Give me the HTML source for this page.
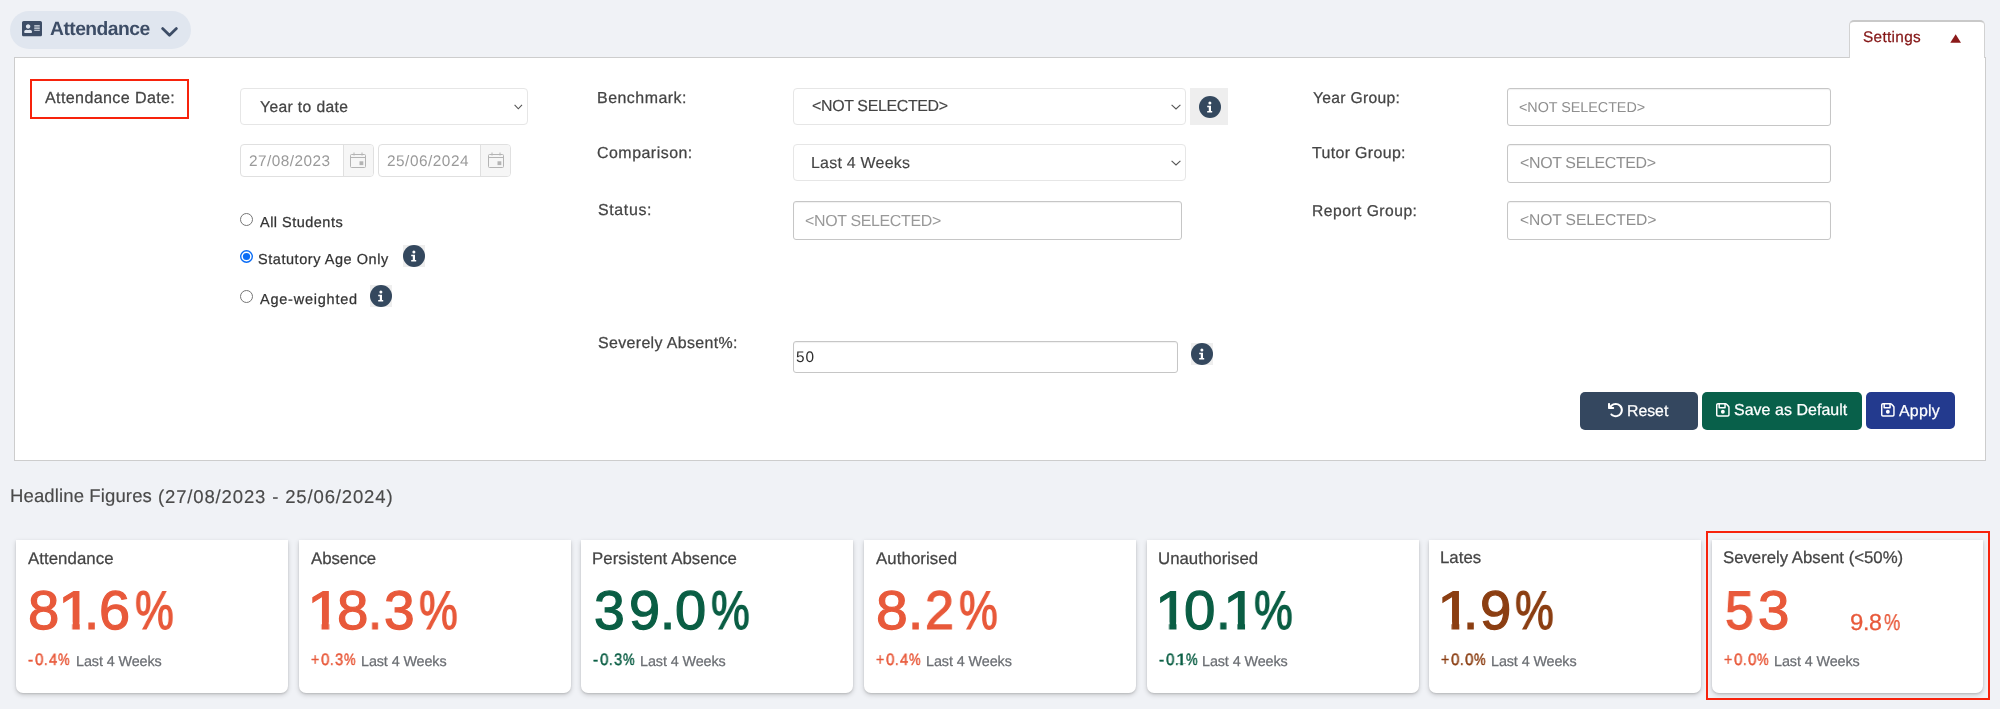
<!DOCTYPE html>
<html><head><meta charset="utf-8"><title>Attendance</title>
<style>
html,body{margin:0;padding:0}
body{text-rendering:geometricPrecision;width:2000px;height:709px;overflow:hidden;background:#f0f2f6;position:relative;font-family:'Liberation Sans',Arial,sans-serif}
.t{will-change:transform;position:absolute;white-space:nowrap;line-height:1;font-family:'Liberation Sans',Arial,sans-serif}
.a{position:absolute;box-sizing:border-box}
.pill{left:10px;top:11px;width:181px;height:38px;border-radius:19px;background:#e0e6ef}
.panel{left:14px;top:57px;width:1972px;height:404px;border:1px solid #cdcdcd;background:#fff}
.tab{left:1849px;top:20px;width:136px;height:38px;background:#fff;border-top:2px solid #c9c9c9;border-left:1px solid #d2d2d2;border-right:1px solid #d2d2d2;border-radius:5px 5px 0 0}
.redbox{border:2px solid #f7230c}
.sel{border:1px solid #e6e6e6;border-radius:4px;background:#fff}
.inp{border:1px solid #c6c6c6;border-radius:3px;background:#fff;box-shadow:inset 0 1px 1px rgba(0,0,0,.06)}
.date{border:1px solid #e0e0e0;border-radius:4px;background:#fff;overflow:hidden}
.addon{position:absolute;top:0;bottom:0;right:0;background:#f6f6f6;border-left:1px solid #e0e0e0}
.radio{width:13px;height:13px;border-radius:50%;border:1px solid #767676;background:#fff}
.radio.on{border:1.6px solid #0a6cf5}
.radio.on::after{content:'';position:absolute;left:1.4px;top:1.4px;width:7px;height:7px;border-radius:50%;background:#0a6cf5}
.ibg{background:#eeeeee}
.btn{border-radius:5px}
.card{top:540px;height:153px;width:272px;background:#fff;border-radius:0 0 7px 7px;box-shadow:0 2px 5px rgba(0,0,0,.17),0 1px 2px rgba(0,0,0,.12)}
svg{position:absolute;overflow:visible}
</style></head><body>
<div class="a pill"></div>
<!-- id card icon -->
<svg style="left:22px;top:21px" width="20" height="15.3" viewBox="0 32 576 448" preserveAspectRatio="none">
 <path fill="#3d4d66" d="M528 32H48C21.5 32 0 53.5 0 80v352c0 26.5 21.5 48 48 48h480c26.5 0 48-21.5 48-48V80c0-26.5-21.5-48-48-48zm-352 96c35.3 0 64 28.7 64 64s-28.7 64-64 64-64-28.7-64-64 28.7-64 64-64zm112 236.8c0 10.6-10 19.2-22.4 19.2H86.4C74 384 64 375.4 64 364.8v-19.2c0-31.8 30.1-57.6 67.2-57.6h5c12.300 5.1 25.7 8 39.8 8s27.6-2.9 39.8-8h5c37.1 0 67.2 25.8 67.2 57.6v19.2zM512 312c0 4.4-3.6 8-8 8H360c-4.4 0-8-3.6-8-8v-16c0-4.4 3.6-8 8-8h144c4.4 0 8 3.6 8 8v16zm0-64c0 4.4-3.6 8-8 8H360c-4.4 0-8-3.6-8-8v-16c0-4.4 3.6-8 8-8h144c4.4 0 8 3.6 8 8v16zm0-64c0 4.4-3.6 8-8 8H360c-4.4 0-8-3.6-8-8v-16c0-4.4 3.6-8 8-8h144c4.4 0 8 3.6 8 8v16z"/>
</svg>
<svg style="left:161px;top:27px" width="17" height="10" viewBox="0 0 17 10">
 <path d="M1.6 1.6 L8.5 8.2 L15.4 1.6" fill="none" stroke="#3d4d66" stroke-width="2.8" stroke-linecap="round" stroke-linejoin="round"/>
</svg>

<div class="a panel"></div>
<div class="a tab"></div>
<svg style="left:1950px;top:34px" width="12" height="9" viewBox="0 0 12 9">
 <path d="M0.3 8.7 L5.65 0.2 L11 8.7 Z" fill="#8b1a1a"/>
</svg>

<!-- col1 -->
<div class="a redbox" style="left:30px;top:79px;width:159px;height:40px"></div>
<div class="a sel" style="left:240px;top:88px;width:288px;height:37px"></div>
<svg style="left:514px;top:104px" width="9" height="6" viewBox="0 0 9 6"><path d="M0.6 0.8 L4.3 4.8 L8 0.8" fill="none" stroke="#555" stroke-width="1.1"/></svg>
<div class="a date" style="left:240px;top:144px;width:134px;height:33px"><div class="addon" style="width:29px"></div></div>
<div class="a date" style="left:378px;top:144px;width:133px;height:33px"><div class="addon" style="width:29px"></div></div>
<svg style="left:350px;top:152px" width="16" height="16" viewBox="0 0 16 16"><g fill="none" stroke="#b4b4b4" stroke-width="1"><rect x="0.5" y="2.5" width="15" height="13" rx="1"/><line x1="0.5" y1="5.5" x2="15.5" y2="5.5"/><line x1="4" y1="0.5" x2="4" y2="3.5"/><line x1="12" y1="0.5" x2="12" y2="3.5"/></g><rect x="9.5" y="9.3" width="3.8" height="3.8" fill="#b4b4b4"/></svg>
<svg style="left:488px;top:152px" width="16" height="16" viewBox="0 0 16 16"><g fill="none" stroke="#b4b4b4" stroke-width="1"><rect x="0.5" y="2.5" width="15" height="13" rx="1"/><line x1="0.5" y1="5.5" x2="15.5" y2="5.5"/><line x1="4" y1="0.5" x2="4" y2="3.5"/><line x1="12" y1="0.5" x2="12" y2="3.5"/></g><rect x="9.5" y="9.3" width="3.8" height="3.8" fill="#b4b4b4"/></svg>
<div class="a radio" style="left:240px;top:213px"></div>
<svg style="left:240px;top:250px" width="13" height="13" viewBox="0 0 13 13"><circle cx="6.5" cy="6.5" r="5.8" fill="#fff" stroke="#0a6cf5" stroke-width="1.4"/><circle cx="6.5" cy="6.5" r="3.6" fill="#0a6cf5"/></svg>
<div class="a radio" style="left:240px;top:290px"></div>
<div class="a ibg" style="left:403px;top:245px;width:22px;height:22px"></div>
<svg style="left:403px;top:245px" width="22" height="22" viewBox="0 0 22 22"><circle cx="11" cy="11" r="11" fill="#34485e"/><circle cx="10.9" cy="6.9" r="1.5" fill="#fff"/><path d="M8.2 9.8 H12.0 V14.9 H13.2 V16.5 H8.2 V14.9 H9.8 V11.3 H8.2 Z" fill="#fff"/></svg>
<div class="a ibg" style="left:370px;top:285px;width:22px;height:22px"></div>
<svg style="left:370px;top:285px" width="22" height="22" viewBox="0 0 22 22"><circle cx="11" cy="11" r="11" fill="#34485e"/><circle cx="10.9" cy="6.9" r="1.5" fill="#fff"/><path d="M8.2 9.8 H12.0 V14.9 H13.2 V16.5 H8.2 V14.9 H9.8 V11.3 H8.2 Z" fill="#fff"/></svg>


<!-- col2 -->
<div class="a sel" style="left:793px;top:88px;width:393px;height:37px"></div>
<svg style="left:1171px;top:104px" width="10" height="6" viewBox="0 0 10 6"><path d="M0.6 0.8 L5 5 L9.4 0.8" fill="none" stroke="#555" stroke-width="1.1"/></svg>
<div class="a sel" style="left:793px;top:144px;width:393px;height:37px"></div>
<svg style="left:1171px;top:160px" width="10" height="6" viewBox="0 0 10 6"><path d="M0.6 0.8 L5 5 L9.4 0.8" fill="none" stroke="#555" stroke-width="1.1"/></svg>
<div class="a ibg" style="left:1190px;top:88px;width:38px;height:37px"></div>
<svg style="left:1199px;top:96px" width="22" height="22" viewBox="0 0 22 22"><circle cx="11" cy="11" r="11" fill="#34485e"/><circle cx="10.9" cy="6.9" r="1.5" fill="#fff"/><path d="M8.2 9.8 H12.0 V14.9 H13.2 V16.5 H8.2 V14.9 H9.8 V11.3 H8.2 Z" fill="#fff"/></svg>
<div class="a ibg" style="left:1191px;top:343px;width:22px;height:22px"></div>
<svg style="left:1191px;top:343px" width="22" height="22" viewBox="0 0 22 22"><circle cx="11" cy="11" r="11" fill="#34485e"/><circle cx="10.9" cy="6.9" r="1.5" fill="#fff"/><path d="M8.2 9.8 H12.0 V14.9 H13.2 V16.5 H8.2 V14.9 H9.8 V11.3 H8.2 Z" fill="#fff"/></svg>

<div class="a inp" style="left:793px;top:201px;width:389px;height:39px"></div>
<div class="a inp" style="left:793px;top:341px;width:385px;height:32px"></div>

<!-- col3 -->
<div class="a inp" style="left:1507px;top:88px;width:324px;height:38px"></div>
<div class="a inp" style="left:1507px;top:144px;width:324px;height:39px"></div>
<div class="a inp" style="left:1507px;top:201px;width:324px;height:39px"></div>

<!-- buttons -->
<div class="a btn" style="left:1580px;top:392px;width:118px;height:38px;background:#34475f"></div>
<div class="a btn" style="left:1702px;top:392px;width:160px;height:38px;background:#08604a"></div>
<div class="a btn" style="left:1866px;top:392px;width:89px;height:37px;background:#233a8e"></div>
<svg style="left:1608px;top:402.9px" width="14.9" height="14.2" viewBox="16 32 464 448" preserveAspectRatio="none"><path fill="#fff" d="M125.7 160H176c17.7 0 32 14.3 32 32s-14.3 32-32 32H48c-17.7 0-32-14.3-32-32V64c0-17.7 14.3-32 32-32s32 14.3 32 32v51.2L97.6 97.6c87.5-87.5 229.3-87.5 316.8 0s87.5 229.3 0 316.8s-229.3 87.5-316.8 0c-12.5-12.5-12.5-32.8 0-45.3s32.8-12.5 45.3 0c62.5 62.5 163.8 62.5 226.3 0s62.5-163.8 0-226.3s-163.8-62.5-226.3 0L125.7 160z"/></svg>
<svg style="left:1715.9px;top:403.2px" width="13.7" height="13.7" viewBox="0 32 448 448"><path fill="#fff" d="M48 96V416c0 8.8 7.2 16 16 16H384c8.8 0 16-7.2 16-16V170.5c0-4.2-1.7-8.3-4.7-11.3l33.9-33.9c12 12 18.7 28.3 18.7 45.3V416c0 35.3-28.7 64-64 64H64c-35.3 0-64-28.7-64-64V96C0 60.7 28.7 32 64 32H309.5c17 0 33.3 6.7 45.3 18.7l74.5 74.5-33.9 33.9L320.8 84.7c-.3-.3-.5-.5-.8-.8V184c0 13.3-10.7 24-24 24H104c-13.3 0-24-10.7-24-24V80H64c-8.8 0-16 7.2-16 16zm80-16v80H272V80H128zm32 240a64 64 0 1 1 128 0 64 64 0 1 1 -128 0z"/></svg>
<svg style="left:1880.6px;top:403.2px" width="13.7" height="13.7" viewBox="0 32 448 448"><path fill="#fff" d="M48 96V416c0 8.8 7.2 16 16 16H384c8.8 0 16-7.2 16-16V170.5c0-4.2-1.7-8.3-4.7-11.3l33.9-33.9c12 12 18.7 28.3 18.7 45.3V416c0 35.3-28.7 64-64 64H64c-35.3 0-64-28.7-64-64V96C0 60.7 28.7 32 64 32H309.5c17 0 33.3 6.7 45.3 18.7l74.5 74.5-33.9 33.9L320.8 84.7c-.3-.3-.5-.5-.8-.8V184c0 13.3-10.7 24-24 24H104c-13.3 0-24-10.7-24-24V80H64c-8.8 0-16 7.2-16 16zm80-16v80H272V80H128zm32 240a64 64 0 1 1 128 0 64 64 0 1 1 -128 0z"/></svg>

<!-- cards -->
<div class="a card" style="left:16px"></div>
<div class="a card" style="left:299px"></div>
<div class="a card" style="left:581px"></div>
<div class="a card" style="left:864px"></div>
<div class="a card" style="left:1147px"></div>
<div class="a card" style="left:1429px"></div>
<div class="a card" style="left:1712px;width:271px"></div>
<div class="a redbox" style="left:1706px;top:531px;width:284px;height:169px"></div>

<div class="t" style="left:50.47px;top:19.98px;font-size:19.28px;letter-spacing:-0.522px;color:#3d4d66;font-weight:700;">Attendance</div>
<div class="t" style="left:1863.42px;top:30.41px;font-size:15.36px;letter-spacing:0.315px;color:#851717;-webkit-text-stroke:0.25px #851717;">Settings</div>
<div class="t" style="left:44.93px;top:89.82px;font-size:16.09px;letter-spacing:0.373px;color:#444;-webkit-text-stroke:0.25px #444;">Attendance Date:</div>
<div class="t" style="left:259.66px;top:99.85px;font-size:15.65px;letter-spacing:0.384px;color:#444;-webkit-text-stroke:0.25px #444;">Year to date</div>
<div class="t" style="left:249.48px;top:153.58px;font-size:15.36px;letter-spacing:0.454px;color:#9a9a9a;">27/08/2023</div>
<div class="t" style="left:386.55px;top:153.58px;font-size:15.36px;letter-spacing:0.514px;color:#9a9a9a;">25/06/2024</div>
<div class="t" style="left:259.58px;top:215.73px;font-size:14.49px;letter-spacing:0.487px;color:#333;-webkit-text-stroke:0.25px #333;">All Students</div>
<div class="t" style="left:258.42px;top:252.91px;font-size:14.49px;letter-spacing:0.555px;color:#333;-webkit-text-stroke:0.25px #333;">Statutory Age Only</div>
<div class="t" style="left:259.59px;top:292.55px;font-size:14.49px;letter-spacing:0.780px;color:#333;-webkit-text-stroke:0.25px #333;">Age-weighted</div>
<div class="t" style="left:596.51px;top:90.75px;font-size:15.94px;letter-spacing:0.496px;color:#444;-webkit-text-stroke:0.25px #444;">Benchmark:</div>
<div class="t" style="left:597.48px;top:146.03px;font-size:15.94px;letter-spacing:0.495px;color:#444;-webkit-text-stroke:0.25px #444;">Comparison:</div>
<div class="t" style="left:597.50px;top:202.91px;font-size:15.94px;letter-spacing:0.637px;color:#444;-webkit-text-stroke:0.25px #444;">Status:</div>
<div class="t" style="left:597.50px;top:335.51px;font-size:15.94px;letter-spacing:0.354px;color:#444;-webkit-text-stroke:0.25px #444;">Severely Absent%:</div>
<div class="t" style="left:811.59px;top:99.49px;font-size:15.94px;letter-spacing:-0.345px;color:#444;-webkit-text-stroke:0.15px #444;">&lt;NOT SELECTED&gt;</div>
<div class="t" style="left:811.14px;top:156.33px;font-size:15.94px;letter-spacing:0.246px;color:#444;-webkit-text-stroke:0.15px #444;">Last 4 Weeks</div>
<div class="t" style="left:805.47px;top:214.26px;font-size:15.94px;letter-spacing:-0.331px;color:#999;">&lt;NOT SELECTED&gt;</div>
<div class="t" style="left:795.67px;top:349.90px;font-size:15.36px;letter-spacing:0.834px;color:#2e2e2e;">50</div>
<div class="t" style="left:1312.67px;top:90.59px;font-size:15.65px;letter-spacing:0.308px;color:#444;-webkit-text-stroke:0.25px #444;">Year Group:</div>
<div class="t" style="left:1312.38px;top:146.32px;font-size:15.94px;letter-spacing:0.345px;color:#444;-webkit-text-stroke:0.25px #444;">Tutor Group:</div>
<div class="t" style="left:1311.64px;top:204.08px;font-size:15.65px;letter-spacing:0.487px;color:#444;-webkit-text-stroke:0.25px #444;">Report Group:</div>
<div class="t" style="left:1519.41px;top:100.50px;font-size:14.35px;letter-spacing:-0.029px;color:#8f8f8f;">&lt;NOT SELECTED&gt;</div>
<div class="t" style="left:1520.33px;top:156.32px;font-size:15.94px;letter-spacing:-0.344px;color:#8f8f8f;">&lt;NOT SELECTED&gt;</div>
<div class="t" style="left:1520.39px;top:213.42px;font-size:15.65px;letter-spacing:-0.123px;color:#8f8f8f;">&lt;NOT SELECTED&gt;</div>
<div class="t" style="left:1627.40px;top:403.71px;font-size:15.8px;letter-spacing:0.006px;color:#fff;-webkit-text-stroke:0.25px #fff;">Reset</div>
<div class="t" style="left:1733.72px;top:403.41px;font-size:15.94px;letter-spacing:0.053px;color:#fff;-webkit-text-stroke:0.25px #fff;">Save as Default</div>
<div class="t" style="left:1898.97px;top:403.62px;font-size:15.94px;letter-spacing:0.220px;color:#fff;-webkit-text-stroke:0.25px #fff;">Apply</div>
<div class="t" style="left:9.78px;top:487.42px;font-size:18.55px;letter-spacing:0.115px;color:#4a4a4a;-webkit-text-stroke:0.15px #4a4a4a;">Headline Figures</div>
<div class="t" style="left:157.61px;top:487.78px;font-size:18.55px;letter-spacing:0.845px;color:#4a4a4a;-webkit-text-stroke:0.15px #4a4a4a;">(27/08/2023 - 25/06/2024)</div>
<div class="t" style="left:28.32px;top:550.78px;font-size:16.81px;letter-spacing:0.057px;color:#444;-webkit-text-stroke:0.25px #444;">Attendance</div>
<div class="t" style="left:75.76px;top:654.67px;font-size:14.35px;letter-spacing:-0.077px;color:#6b6e73;-webkit-text-stroke:0.25px #6b6e73;">Last 4 Weeks</div>
<div class="t" style="left:311.32px;top:550.78px;font-size:16.81px;letter-spacing:-0.047px;color:#444;-webkit-text-stroke:0.25px #444;">Absence</div>
<div class="t" style="left:361.28px;top:654.67px;font-size:14.35px;letter-spacing:-0.092px;color:#6b6e73;-webkit-text-stroke:0.25px #6b6e73;">Last 4 Weeks</div>
<div class="t" style="left:592.20px;top:550.75px;font-size:16.81px;letter-spacing:0.064px;color:#444;-webkit-text-stroke:0.25px #444;">Persistent Absence</div>
<div class="t" style="left:639.76px;top:654.67px;font-size:14.35px;letter-spacing:-0.077px;color:#6b6e73;-webkit-text-stroke:0.25px #6b6e73;">Last 4 Weeks</div>
<div class="t" style="left:876.32px;top:550.73px;font-size:16.81px;letter-spacing:0.085px;color:#444;-webkit-text-stroke:0.25px #444;">Authorised</div>
<div class="t" style="left:926.43px;top:654.67px;font-size:14.35px;letter-spacing:-0.076px;color:#6b6e73;-webkit-text-stroke:0.25px #6b6e73;">Last 4 Weeks</div>
<div class="t" style="left:1158.25px;top:550.76px;font-size:16.81px;letter-spacing:0.020px;color:#444;-webkit-text-stroke:0.25px #444;">Unauthorised</div>
<div class="t" style="left:1202.14px;top:654.67px;font-size:14.35px;letter-spacing:-0.089px;color:#6b6e73;-webkit-text-stroke:0.25px #6b6e73;">Last 4 Weeks</div>
<div class="t" style="left:1440.20px;top:549.63px;font-size:16.81px;letter-spacing:0.026px;color:#444;-webkit-text-stroke:0.25px #444;">Lates</div>
<div class="t" style="left:1491.28px;top:654.67px;font-size:14.35px;letter-spacing:-0.092px;color:#6b6e73;-webkit-text-stroke:0.25px #6b6e73;">Last 4 Weeks</div>
<div class="t" style="left:1723.36px;top:549.63px;font-size:16.81px;letter-spacing:-0.025px;color:#444;-webkit-text-stroke:0.25px #444;">Severely Absent (&lt;50%)</div>
<div class="t" style="left:1774.26px;top:654.67px;font-size:14.35px;letter-spacing:-0.082px;color:#6b6e73;-webkit-text-stroke:0.25px #6b6e73;">Last 4 Weeks</div>
<div class="t" style="left:28.45px;top:583.87px;font-size:54.5px;color:#e8593a;-webkit-text-stroke:1.2px #e8593a;transform:scaleX(1.0331);transform-origin:0 0;">8</div>
<div class="t" style="left:58.47px;top:583.87px;font-size:54.5px;color:#e8593a;-webkit-text-stroke:1.2px #e8593a;transform:scaleX(1.1204);transform-origin:0 0;clip-path:polygon(-50px -50px,200px -50px,200px 38.15px,19.43px 38.15px,19.43px 200px,12.72px 200px,12.72px 38.15px,-50px 38.15px);">1</div>
<div class="t" style="left:84.28px;top:583.87px;font-size:54.5px;color:#e8593a;-webkit-text-stroke:1.2px #e8593a;transform:scaleX(0.9756);transform-origin:0 0;">.</div>
<div class="t" style="left:99.26px;top:583.87px;font-size:54.5px;color:#e8593a;-webkit-text-stroke:1.2px #e8593a;transform:scaleX(1.0257);transform-origin:0 0;">6</div>
<div class="t" style="left:134.60px;top:583.87px;font-size:54.5px;color:#e8593a;-webkit-text-stroke:1.2px #e8593a;transform:scaleX(0.8000);transform-origin:0 0;">%</div>
<div class="t" style="left:307.16px;top:583.87px;font-size:54.5px;color:#e8593a;-webkit-text-stroke:1.2px #e8593a;transform:scaleX(1.1415);transform-origin:0 0;clip-path:polygon(-50px -50px,200px -50px,200px 38.15px,19.43px 38.15px,19.43px 200px,12.72px 200px,12.72px 38.15px,-50px 38.15px);">1</div>
<div class="t" style="left:336.55px;top:583.87px;font-size:54.5px;color:#e8593a;-webkit-text-stroke:1.2px #e8593a;transform:scaleX(1.0368);transform-origin:0 0;">8</div>
<div class="t" style="left:368.35px;top:583.87px;font-size:54.5px;color:#e8593a;-webkit-text-stroke:1.2px #e8593a;transform:scaleX(0.9268);transform-origin:0 0;">.</div>
<div class="t" style="left:383.58px;top:583.87px;font-size:54.5px;color:#e8593a;-webkit-text-stroke:1.2px #e8593a;transform:scaleX(1.0110);transform-origin:0 0;">3</div>
<div class="t" style="left:418.90px;top:583.87px;font-size:54.5px;color:#e8593a;-webkit-text-stroke:1.2px #e8593a;transform:scaleX(0.8000);transform-origin:0 0;">%</div>
<div class="t" style="left:594.38px;top:583.87px;font-size:54.5px;color:#0a5e44;-webkit-text-stroke:1.2px #0a5e44;transform:scaleX(1.0147);transform-origin:0 0;">3</div>
<div class="t" style="left:628.76px;top:583.87px;font-size:54.5px;color:#0a5e44;-webkit-text-stroke:1.2px #0a5e44;transform:scaleX(1.0257);transform-origin:0 0;">9</div>
<div class="t" style="left:659.54px;top:583.87px;font-size:54.5px;color:#0a5e44;-webkit-text-stroke:1.2px #0a5e44;transform:scaleX(0.9878);transform-origin:0 0;">.</div>
<div class="t" style="left:674.66px;top:583.87px;font-size:54.5px;color:#0a5e44;-webkit-text-stroke:1.2px #0a5e44;transform:scaleX(1.0284);transform-origin:0 0;">0</div>
<div class="t" style="left:710.60px;top:583.87px;font-size:54.5px;color:#0a5e44;-webkit-text-stroke:1.2px #0a5e44;transform:scaleX(0.8000);transform-origin:0 0;">%</div>
<div class="t" style="left:876.33px;top:583.87px;font-size:54.5px;color:#e8593a;-webkit-text-stroke:1.2px #e8593a;transform:scaleX(1.0478);transform-origin:0 0;">8</div>
<div class="t" style="left:907.54px;top:583.87px;font-size:54.5px;color:#e8593a;-webkit-text-stroke:1.2px #e8593a;transform:scaleX(0.9878);transform-origin:0 0;">.</div>
<div class="t" style="left:924.66px;top:583.87px;font-size:54.5px;color:#e8593a;-webkit-text-stroke:1.2px #e8593a;transform:scaleX(0.9559);transform-origin:0 0;">2</div>
<div class="t" style="left:958.55px;top:583.87px;font-size:54.5px;color:#e8593a;-webkit-text-stroke:1.2px #e8593a;transform:scaleX(0.8000);transform-origin:0 0;">%</div>
<div class="t" style="left:1155.13px;top:583.87px;font-size:54.5px;color:#0a5e44;-webkit-text-stroke:1.2px #0a5e44;transform:scaleX(1.1064);transform-origin:0 0;clip-path:polygon(-50px -50px,200px -50px,200px 38.15px,19.43px 38.15px,19.43px 200px,12.72px 200px,12.72px 38.15px,-50px 38.15px);">1</div>
<div class="t" style="left:1184.45px;top:583.87px;font-size:54.5px;color:#0a5e44;-webkit-text-stroke:1.2px #0a5e44;transform:scaleX(1.0355);transform-origin:0 0;">0</div>
<div class="t" style="left:1216.42px;top:583.87px;font-size:54.5px;color:#0a5e44;-webkit-text-stroke:1.2px #0a5e44;transform:scaleX(0.9634);transform-origin:0 0;">.</div>
<div class="t" style="left:1223.10px;top:583.87px;font-size:54.5px;color:#0a5e44;-webkit-text-stroke:1.2px #0a5e44;transform:scaleX(1.1345);transform-origin:0 0;clip-path:polygon(-50px -50px,200px -50px,200px 38.15px,19.43px 38.15px,19.43px 200px,12.72px 200px,12.72px 38.15px,-50px 38.15px);">1</div>
<div class="t" style="left:1254.45px;top:583.87px;font-size:54.5px;color:#0a5e44;-webkit-text-stroke:1.2px #0a5e44;transform:scaleX(0.8000);transform-origin:0 0;">%</div>
<div class="t" style="left:1437.23px;top:583.87px;font-size:54.5px;color:#8b3e12;-webkit-text-stroke:1.2px #8b3e12;transform:scaleX(1.1485);transform-origin:0 0;clip-path:polygon(-50px -50px,200px -50px,200px 38.15px,19.43px 38.15px,19.43px 200px,12.72px 200px,12.72px 38.15px,-50px 38.15px);">1</div>
<div class="t" style="left:1463.44px;top:583.87px;font-size:54.5px;color:#8b3e12;-webkit-text-stroke:1.2px #8b3e12;transform:scaleX(0.9878);transform-origin:0 0;">.</div>
<div class="t" style="left:1479.55px;top:583.87px;font-size:54.5px;color:#8b3e12;-webkit-text-stroke:1.2px #8b3e12;transform:scaleX(1.0331);transform-origin:0 0;">9</div>
<div class="t" style="left:1514.90px;top:583.87px;font-size:54.5px;color:#8b3e12;-webkit-text-stroke:1.2px #8b3e12;transform:scaleX(0.8000);transform-origin:0 0;">%</div>
<div class="t" style="left:1725.17px;top:584.17px;font-size:54.5px;color:#e8593a;-webkit-text-stroke:1.2px #e8593a;transform:scaleX(0.9504);transform-origin:0 0;">5</div>
<div class="t" style="left:1757.65px;top:584.17px;font-size:54.5px;color:#e8593a;-webkit-text-stroke:1.2px #e8593a;transform:scaleX(1.0368);transform-origin:0 0;">3</div>
<div class="t" style="left:1850.01px;top:611.33px;font-size:23.0px;color:#e8593a;-webkit-text-stroke:0.3px #e8593a;transform:scaleX(1.0442);transform-origin:0 0;">9</div>
<div class="t" style="left:1863.16px;top:611.33px;font-size:23.0px;color:#e8593a;-webkit-text-stroke:0.3px #e8593a;transform:scaleX(0.9394);transform-origin:0 0;">.</div>
<div class="t" style="left:1869.24px;top:611.33px;font-size:23.0px;color:#e8593a;-webkit-text-stroke:0.3px #e8593a;transform:scaleX(1.0088);transform-origin:0 0;">8</div>
<div class="t" style="left:1883.75px;top:611.33px;font-size:23.0px;color:#e8593a;-webkit-text-stroke:0.3px #e8593a;transform:scaleX(0.8000);transform-origin:0 0;">%</div>
<div class="t" style="left:28.11px;top:651.83px;font-size:16.5px;color:#e8593a;-webkit-text-stroke:0.45px #e8593a;transform:scaleX(0.9358);transform-origin:0 0;">-</div>
<div class="t" style="left:35.01px;top:651.83px;font-size:16.5px;color:#e8593a;-webkit-text-stroke:0.45px #e8593a;transform:scaleX(0.9206);transform-origin:0 0;">0</div>
<div class="t" style="left:43.82px;top:651.83px;font-size:16.5px;color:#e8593a;-webkit-text-stroke:0.45px #e8593a;transform:scaleX(0.8000);transform-origin:0 0;">.</div>
<div class="t" style="left:48.80px;top:651.83px;font-size:16.5px;color:#e8593a;-webkit-text-stroke:0.45px #e8593a;transform:scaleX(0.8995);transform-origin:0 0;">4</div>
<div class="t" style="left:58.15px;top:651.83px;font-size:16.5px;color:#e8593a;-webkit-text-stroke:0.45px #e8593a;transform:scaleX(0.8000);transform-origin:0 0;">%</div>
<div class="t" style="left:311.09px;top:651.83px;font-size:16.5px;color:#e8593a;-webkit-text-stroke:0.45px #e8593a;transform:scaleX(0.8571);transform-origin:0 0;">+</div>
<div class="t" style="left:321.31px;top:651.83px;font-size:16.5px;color:#e8593a;-webkit-text-stroke:0.45px #e8593a;transform:scaleX(0.9206);transform-origin:0 0;">0</div>
<div class="t" style="left:330.12px;top:651.83px;font-size:16.5px;color:#e8593a;-webkit-text-stroke:0.45px #e8593a;transform:scaleX(0.8000);transform-origin:0 0;">.</div>
<div class="t" style="left:335.10px;top:651.83px;font-size:16.5px;color:#e8593a;-webkit-text-stroke:0.45px #e8593a;transform:scaleX(0.8995);transform-origin:0 0;">3</div>
<div class="t" style="left:344.45px;top:651.83px;font-size:16.5px;color:#e8593a;-webkit-text-stroke:0.45px #e8593a;transform:scaleX(0.8000);transform-origin:0 0;">%</div>
<div class="t" style="left:593.11px;top:651.83px;font-size:16.5px;color:#0a5e44;-webkit-text-stroke:0.45px #0a5e44;transform:scaleX(0.9358);transform-origin:0 0;">-</div>
<div class="t" style="left:600.01px;top:651.83px;font-size:16.5px;color:#0a5e44;-webkit-text-stroke:0.45px #0a5e44;transform:scaleX(0.9206);transform-origin:0 0;">0</div>
<div class="t" style="left:608.82px;top:651.83px;font-size:16.5px;color:#0a5e44;-webkit-text-stroke:0.45px #0a5e44;transform:scaleX(0.8000);transform-origin:0 0;">.</div>
<div class="t" style="left:613.80px;top:651.83px;font-size:16.5px;color:#0a5e44;-webkit-text-stroke:0.45px #0a5e44;transform:scaleX(0.8995);transform-origin:0 0;">3</div>
<div class="t" style="left:623.15px;top:651.83px;font-size:16.5px;color:#0a5e44;-webkit-text-stroke:0.45px #0a5e44;transform:scaleX(0.8000);transform-origin:0 0;">%</div>
<div class="t" style="left:876.09px;top:651.83px;font-size:16.5px;color:#e8593a;-webkit-text-stroke:0.45px #e8593a;transform:scaleX(0.8571);transform-origin:0 0;">+</div>
<div class="t" style="left:886.31px;top:651.83px;font-size:16.5px;color:#e8593a;-webkit-text-stroke:0.45px #e8593a;transform:scaleX(0.9206);transform-origin:0 0;">0</div>
<div class="t" style="left:895.12px;top:651.83px;font-size:16.5px;color:#e8593a;-webkit-text-stroke:0.45px #e8593a;transform:scaleX(0.8000);transform-origin:0 0;">.</div>
<div class="t" style="left:900.10px;top:651.83px;font-size:16.5px;color:#e8593a;-webkit-text-stroke:0.45px #e8593a;transform:scaleX(0.8995);transform-origin:0 0;">4</div>
<div class="t" style="left:909.45px;top:651.83px;font-size:16.5px;color:#e8593a;-webkit-text-stroke:0.45px #e8593a;transform:scaleX(0.8000);transform-origin:0 0;">%</div>
<div class="t" style="left:1159.11px;top:651.83px;font-size:16.5px;color:#0a5e44;-webkit-text-stroke:0.45px #0a5e44;transform:scaleX(0.9358);transform-origin:0 0;">-</div>
<div class="t" style="left:1166.01px;top:651.83px;font-size:16.5px;color:#0a5e44;-webkit-text-stroke:0.45px #0a5e44;transform:scaleX(0.9206);transform-origin:0 0;">0</div>
<div class="t" style="left:1174.83px;top:651.83px;font-size:16.5px;color:#0a5e44;-webkit-text-stroke:0.45px #0a5e44;transform:scaleX(0.8000);transform-origin:0 0;">.</div>
<div class="t" style="left:1176.45px;top:651.83px;font-size:16.5px;color:#0a5e44;-webkit-text-stroke:0.45px #0a5e44;transform:scaleX(1.1565);transform-origin:0 0;clip-path:polygon(-50px -50px,200px -50px,200px 11.55px,6.13px 11.55px,6.13px 200px,3.60px 200px,3.60px 11.55px,-50px 11.55px);">1</div>
<div class="t" style="left:1185.65px;top:651.83px;font-size:16.5px;color:#0a5e44;-webkit-text-stroke:0.45px #0a5e44;transform:scaleX(0.8000);transform-origin:0 0;">%</div>
<div class="t" style="left:1441.09px;top:651.83px;font-size:16.5px;color:#8b3e12;-webkit-text-stroke:0.45px #8b3e12;transform:scaleX(0.8571);transform-origin:0 0;">+</div>
<div class="t" style="left:1451.31px;top:651.83px;font-size:16.5px;color:#8b3e12;-webkit-text-stroke:0.45px #8b3e12;transform:scaleX(0.9206);transform-origin:0 0;">0</div>
<div class="t" style="left:1460.12px;top:651.83px;font-size:16.5px;color:#8b3e12;-webkit-text-stroke:0.45px #8b3e12;transform:scaleX(0.8000);transform-origin:0 0;">.</div>
<div class="t" style="left:1465.11px;top:651.83px;font-size:16.5px;color:#8b3e12;-webkit-text-stroke:0.45px #8b3e12;transform:scaleX(0.9206);transform-origin:0 0;">0</div>
<div class="t" style="left:1474.45px;top:651.83px;font-size:16.5px;color:#8b3e12;-webkit-text-stroke:0.45px #8b3e12;transform:scaleX(0.8000);transform-origin:0 0;">%</div>
<div class="t" style="left:1724.09px;top:651.83px;font-size:16.5px;color:#e8593a;-webkit-text-stroke:0.45px #e8593a;transform:scaleX(0.8571);transform-origin:0 0;">+</div>
<div class="t" style="left:1734.31px;top:651.83px;font-size:16.5px;color:#e8593a;-webkit-text-stroke:0.45px #e8593a;transform:scaleX(0.9206);transform-origin:0 0;">0</div>
<div class="t" style="left:1743.12px;top:651.83px;font-size:16.5px;color:#e8593a;-webkit-text-stroke:0.45px #e8593a;transform:scaleX(0.8000);transform-origin:0 0;">.</div>
<div class="t" style="left:1748.11px;top:651.83px;font-size:16.5px;color:#e8593a;-webkit-text-stroke:0.45px #e8593a;transform:scaleX(0.9206);transform-origin:0 0;">0</div>
<div class="t" style="left:1757.45px;top:651.83px;font-size:16.5px;color:#e8593a;-webkit-text-stroke:0.45px #e8593a;transform:scaleX(0.8000);transform-origin:0 0;">%</div>
</body></html>
